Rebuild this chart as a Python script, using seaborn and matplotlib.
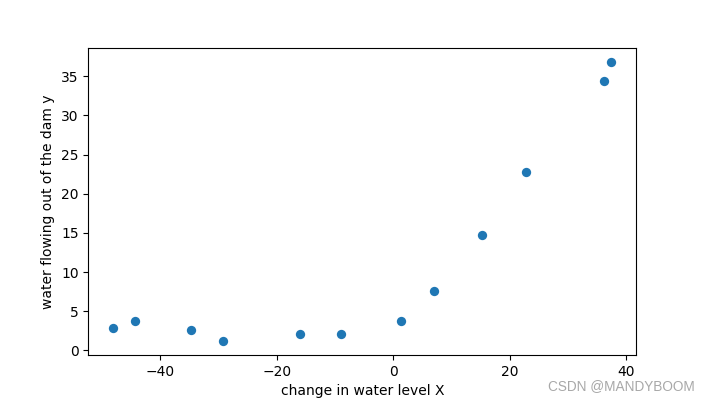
import matplotlib
matplotlib.use('Agg')
import matplotlib.pyplot as plt
import seaborn as sns
import pandas as pd

# données (change in water level / water flowing out)
X = [-15.9368, -29.1530, 36.1895, 37.4922, -48.0588, -8.9415,
     15.3078, -34.7063, 1.3892, -44.3838, 7.0135, 22.7627]
y = [2.1343, 1.1733, 34.3591, 36.8380, 2.8090, 2.1211,
     14.7103, 2.6142, 3.7402, 3.7317, 7.6277, 22.7524]

df = pd.DataFrame({'X': X, 'y': y})

fig, ax = plt.subplots(figsize=(7.07, 3.99), dpi=100)
sns.scatterplot(x='X', y='y', data=df, ax=ax, color='#1f77b4', s=45, linewidth=0)
ax.set_xlabel('change in water level X')
ax.set_ylabel('water flowing out of the dam y')

# filigrane
fig.text(0.775, 0.022, 'CSDN @MANDYBOOM', color='#a8a8a8', fontsize=9.8,
         family='Liberation Sans')

fig.savefig('out.png', dpi=100)
